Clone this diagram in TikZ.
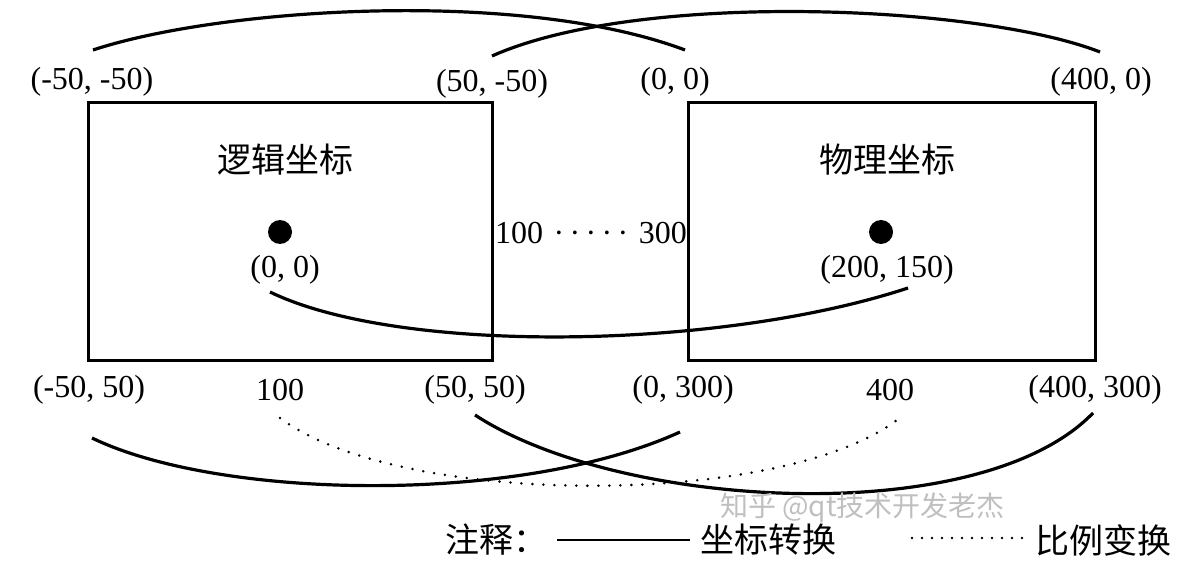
\documentclass[tikz,border=0pt]{standalone}
\usepackage{fontspec}
\setmainfont{Liberation Serif}
\newfontfamily\cjk{Noto Sans CJK SC}
\begin{document}
\begin{tikzpicture}[x=1pt,y=-1pt,
  num/.style={inner sep=0pt,font=\fontsize{32}{34}\selectfont},
  zh/.style={inner sep=0pt,font=\cjk\fontsize{34}{36}\selectfont},
  frame/.style={draw,line width=3pt},
  conv/.style={line width=3.2pt},
  scale line/.style={line width=2.8pt,line cap=round,dash pattern=on 0pt off 11pt},
  pt/.style={circle,fill,inner sep=0pt,minimum size=24pt}]
\useasboundingbox (0,0) rectangle (1200,572);
% boxes
\draw[frame] (88,103) rectangle (492,360);
\draw[frame] (688,103) rectangle (1095,360);
% top labels
\node[num] (lt) at (92,82) {(-50, -50)};
\node[num] (lr) at (492,84) {(50, -50)};
\node[num] (po) at (675,82) {(0, 0)};
\node[num] (pr) at (1101,82) {(400, 0)};
% bottom labels
\node[num] (lb) at (89,390) {(-50, 50)};
\node[num] (w1) at (280,390) {100};
\node[num] (lbr) at (475,390) {(50, 50)};
\node[num] (pb) at (683,390) {(0, 300)};
\node[num] (w2) at (890,390) {400};
\node[num] (pbr) at (1095,390) {(400, 300)};
% inside
\node[zh] (lname) at (285,160) {逻辑坐标};
\node[zh] (pname) at (887,160) {物理坐标};
\node[pt] (ld) at (280,232) {};
\node[pt] (pd) at (881,232) {};
\node[num] (lc) at (285,270) {(0, 0)};
\node[num] (pc) at (887,270) {(200, 150)};
\node[num] (ratio) at (591,233) {100\,\,·\,·\,·\,·\,·\,\,300};
% curve end points
\coordinate (a1) at (93,50);  \coordinate (a2) at (685,50);
\coordinate (b1) at (492,56); \coordinate (b2) at (1100,52);
\coordinate (c1) at (270,292); \coordinate (c2) at (908,288);
\coordinate (d1) at (92,438); \coordinate (d2) at (680,432);
\coordinate (e1) at (475,415); \coordinate (e2) at (1093,413);
\coordinate (f1) at (280,418); \coordinate (f2) at (897,420);
% coordinate transforms
\draw[conv] (a1) .. controls (220,8) and (520,-12) .. (a2);
\draw[conv] (b1) .. controls (640,-10) and (980,5) .. (b2);
\draw[conv] (c1) .. controls (400,355) and (720,350) .. (c2);
\draw[conv] (d1) .. controls (220,500) and (520,505) .. (d2);
\draw[conv] (e1) .. controls (620,510) and (980,530) .. (e2);
% scale
\draw[scale line] (f1) .. controls (400,508) and (780,508) .. (f2);
% legend
\node[zh,anchor=west] (note) at (445,540) {注释：};
\coordinate (s1) at (557,540); \coordinate (s2) at (690,540);
\draw[line width=2.4pt] (s1) -- (s2);
\node[zh,anchor=west] (ct) at (700,540) {坐标转换};
\coordinate (t1) at (912,538); \coordinate (t2) at (1030,538);
\draw[line width=2.8pt,line cap=round,dash pattern=on 0pt off 10pt] (t1) -- (t2);
\node[zh,anchor=west] (sc) at (1035,540) {比例变换};
% watermark
\node[inner sep=0pt,anchor=west,text=black!25,font=\cjk\fontsize{28}{30}\selectfont] (wm) at (720,508) {知乎 @qt技术开发老杰};
\end{tikzpicture}
\end{document}
